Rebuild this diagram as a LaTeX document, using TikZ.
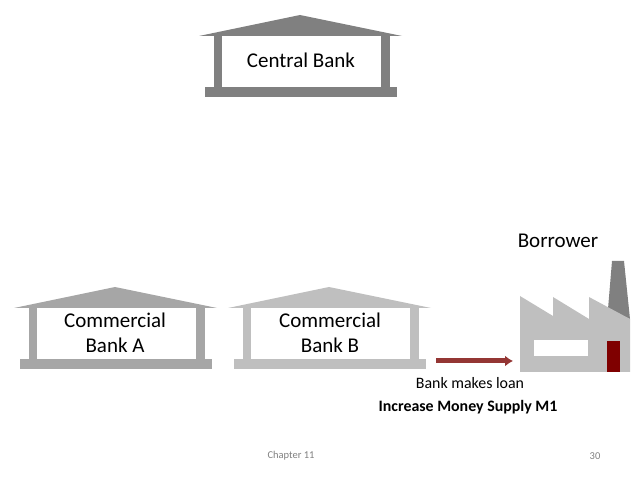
\documentclass[tikz,border=0pt]{standalone}
\usepackage{fontspec}
\usetikzlibrary{arrows.meta}
\setmainfont{Carlito}
\definecolor{loanred}{HTML}{943634}
\definecolor{doorred}{HTML}{7F0000}
\begin{document}
\begin{tikzpicture}[
    x=1pt, y=-1pt,
    bankhouse/.pic={
      \fill[#1] (-101,21) -- (0,0) -- (102,21) -- cycle; % roof
      \fill[#1] (-86,21) rectangle (-78,72);
      \fill[#1] (81,21) rectangle (90,72);
      \fill[#1] (-95,72) rectangle (97,82); % base
    },
    bank text/.style={font=\fontsize{21}{25}\selectfont, align=center, text=black, inner sep=0pt},
    small text/.style={font=\fontsize{15.9}{19}\selectfont, text=black, inner sep=0pt},
    footer text/.style={font=\fontsize{10.5}{13}\selectfont, text=black!50, inner sep=0pt},
    loan arrow/.style={draw=loanred, line width=5pt, -{Latex[length=8pt,width=11pt]}}
    ]
    \useasboundingbox (0,0) rectangle (638,478);
    \pic at (300,15) {bankhouse={black!50}};
    \pic at (115,287) {bankhouse={black!35}};
    \pic at (329,287) {bankhouse={black!25}};
    \node[bank text] (central) at (301,60) {Central Bank};
    \node[bank text] (banka) at (115,332.5) {Commercial\\Bank A};
    \node[bank text] (bankb) at (330,332.5) {Commercial\\Bank B};
    \node[bank text] (borrower) at (558,241) {Borrower};
    % factory
    \fill[black!50] (612,261) -- (624,261) -- (630,319) -- (608,309) -- cycle;
    \fill[black!25] (520,296) -- (553,316) -- (553,297) -- (589,319) -- (589,297) -- (630,319)
      -- (630,372) -- (520,372) -- cycle;
    \fill[white] (534,340) rectangle (588,356);
    \fill[doorred] (607,341) rectangle (620,372);
    % loan
    \coordinate (loanstart) at (436,361);
    \coordinate (loanend) at (513,361);
    \draw[loan arrow] (loanstart) -- (loanend);
    \node[small text] (loan) at (470,383) {Bank makes loan};
    \node[small text, font=\fontsize{15.9}{19}\selectfont\bfseries] (supply) at (468,407) {Increase Money Supply M1};
    \node[footer text] (chapter) at (291,456) {Chapter 11};
    \node[footer text] (page) at (595,456) {30};
\end{tikzpicture}
\end{document}
